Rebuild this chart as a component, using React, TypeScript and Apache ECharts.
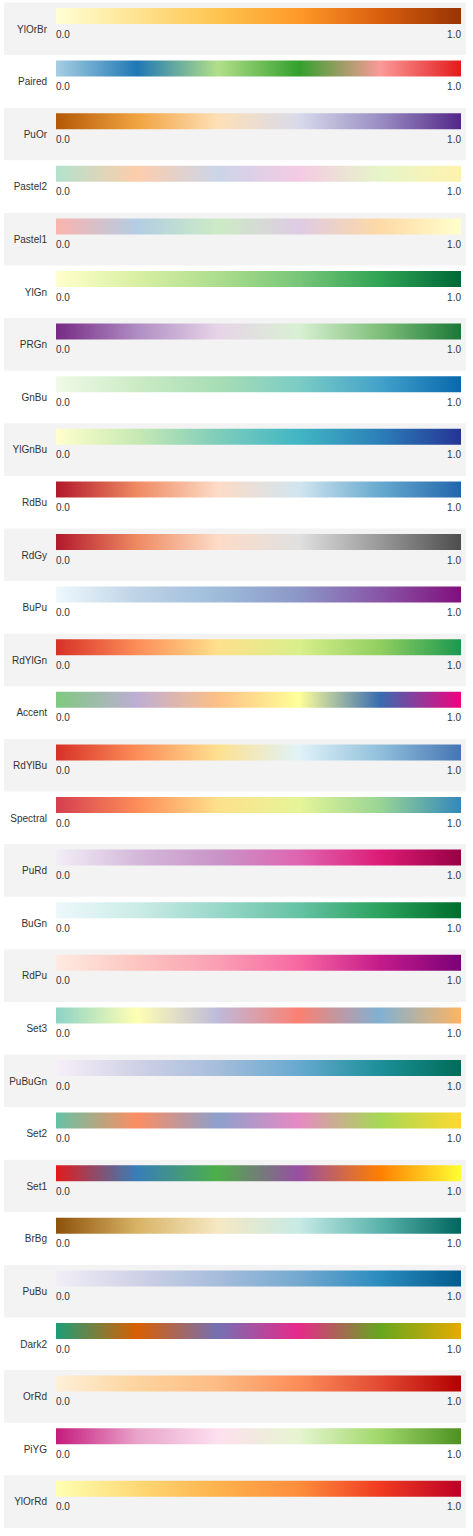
import React, { useEffect, useRef } from 'react';
import * as echarts from 'echarts';

const schemeNames: string[] = [
  'YlOrBr', 'Paired', 'PuOr', 'Pastel2', 'Pastel1', 'YlGn', 'PRGn', 'GnBu', 'YlGnBu', 'RdBu',
  'RdGy', 'BuPu', 'RdYlGn', 'Accent', 'RdYlBu', 'Spectral', 'PuRd', 'BuGn', 'RdPu', 'Set3',
  'PuBuGn', 'Set2', 'Set1', 'BrBg', 'PuBu', 'Dark2', 'OrRd', 'PiYG', 'YlOrRd',
];

const schemeColors: string[][] = [
  ['#ffffd4', '#fee391', '#fec44f', '#fe9929', '#d95f0e', '#993404'],
  ['#a6cee3', '#1f78b4', '#b2df8a', '#33a02c', '#fb9a99', '#e31a1c'],
  ['#b35806', '#f1a340', '#fee0b6', '#d8daeb', '#998ec3', '#542788'],
  ['#b3e2cd', '#fdcdac', '#cbd5e8', '#f4cae4', '#e6f5c9', '#fff2ae'],
  ['#fbb4ae', '#b3cde3', '#ccebc5', '#decbe4', '#fed9a6', '#ffffcc'],
  ['#ffffcc', '#d9f0a3', '#addd8e', '#78c679', '#31a354', '#006837'],
  ['#762a83', '#af8dc3', '#e7d4e8', '#d9f0d3', '#7fbf7b', '#1b7837'],
  ['#f0f9e8', '#ccebc5', '#a8ddb5', '#7bccc4', '#43a2ca', '#0868ac'],
  ['#ffffcc', '#c7e9b4', '#7fcdbb', '#41b6c4', '#2c7fb8', '#253494'],
  ['#b2182b', '#ef8a62', '#fddbc7', '#d1e5f0', '#67a9cf', '#2166ac'],
  ['#b2182b', '#ef8a62', '#fddbc7', '#e0e0e0', '#999999', '#4d4d4d'],
  ['#edf8fb', '#bfd3e6', '#9ebcda', '#8c96c6', '#8856a7', '#810f7c'],
  ['#d73027', '#fc8d59', '#fee08b', '#d9ef8b', '#91cf60', '#1a9850'],
  ['#7fc97f', '#beaed4', '#fdc086', '#ffff99', '#386cb0', '#f0027f'],
  ['#d73027', '#fc8d59', '#fee090', '#e0f3f8', '#91bfdb', '#4575b4'],
  ['#d53e4f', '#fc8d59', '#fee08b', '#e6f598', '#99d594', '#3288bd'],
  ['#f1eef6', '#d4b9da', '#c994c7', '#df65b0', '#dd1c77', '#980043'],
  ['#edf8fb', '#ccece6', '#99d8c9', '#66c2a4', '#2ca25f', '#006d2c'],
  ['#feebe2', '#fcc5c0', '#fa9fb5', '#f768a1', '#c51b8a', '#7a0177'],
  ['#8dd3c7', '#ffffb3', '#bebada', '#fb8072', '#80b1d3', '#fdb462'],
  ['#f6eff7', '#d0d1e6', '#a6bddb', '#67a9cf', '#1c9099', '#016c59'],
  ['#66c2a5', '#fc8d62', '#8da0cb', '#e78ac3', '#a6d854', '#ffd92f'],
  ['#e41a1c', '#377eb8', '#4daf4a', '#984ea3', '#ff7f00', '#ffff33'],
  ['#8c510a', '#d8b365', '#f6e8c3', '#c7eae5', '#5ab4ac', '#01665e'],
  ['#f1eef6', '#d0d1e6', '#a6bddb', '#74a9cf', '#2b8cbe', '#045a8d'],
  ['#1b9e77', '#d95f02', '#7570b3', '#e7298a', '#66a61e', '#e6ab02'],
  ['#fef0d9', '#fdd49e', '#fdbb84', '#fc8d59', '#e34a33', '#b30000'],
  ['#c51b7d', '#e9a3c9', '#fde0ef', '#e6f5d0', '#a1d76a', '#4d9221'],
  ['#ffffb2', '#fed976', '#feb24c', '#fd8d3c', '#f03b20', '#bd0026'],
];

const domainMin = 0;
const domainMax = 1;
const barValue: number[] = [1];

const W = 473;
const H = 1536;
const ROW = 52.6;
const BAR_TOP = 8;
const BAR_H = 16;
const BAND_TOP = 2.5;
const FONT = 'Arial, "Liberation Sans", Helvetica, sans-serif';

export default function App() {
  const ref = useRef<HTMLDivElement>(null);

  useEffect(() => {
    if (!ref.current) return;
    const chart = echarts.init(ref.current, null, { renderer: 'svg', width: W, height: H });

    const grids: any[] = [];
    const xAxes: any[] = [];
    const yAxes: any[] = [];
    const series: any[] = [];
    const graphics: any[] = [];

    schemeNames.forEach((name, i) => {
      if (i % 2 === 0) {
        graphics.push({
          type: 'rect',
          silent: true,
          z: -10,
          shape: { x: 4, y: BAND_TOP + ROW * i, width: 462, height: ROW },
          style: { fill: '#f3f3f3' },
        });
      }
      grids.push({ left: 56, right: 12, top: BAR_TOP + ROW * i, height: BAR_H, containLabel: false });
      xAxes.push({
        type: 'value',
        gridIndex: i,
        min: domainMin,
        max: domainMax,
        interval: domainMax - domainMin,
        axisLine: { show: false },
        axisTick: { show: false },
        splitLine: { show: false },
        axisLabel: {
          show: true,
          margin: 5,
          fontSize: 10,
          fontFamily: FONT,
          color: '#333',
          showMinLabel: true,
          showMaxLabel: true,
          alignMinLabel: 'left',
          alignMaxLabel: 'right',
          formatter: (v: number) => v.toFixed(1),
        },
      });
      yAxes.push({
        type: 'category',
        gridIndex: i,
        data: [name],
        axisLine: { show: false },
        axisTick: { show: false },
        splitLine: { show: false },
        axisLabel: {
          margin: 9,
          fontSize: 10,
          fontFamily: FONT,
          color: '#333',
          verticalAlign: 'top',
          lineHeight: 26,
        },
      });
      const colors = schemeColors[i];
      series.push({
        type: 'bar',
        name,
        xAxisIndex: i,
        yAxisIndex: i,
        data: barValue,
        barWidth: '100%',
        silent: true,
        itemStyle: {
          color: new echarts.graphic.LinearGradient(
            0, 0, 1, 0,
            colors.map((c, k) => ({ offset: k / (colors.length - 1), color: c }))
          ),
        },
      });
    });

    chart.setOption({
      animation: false,
      backgroundColor: '#ffffff',
      graphic: graphics,
      grid: grids,
      xAxis: xAxes,
      yAxis: yAxes,
      series,
    });

    return () => chart.dispose();
  }, []);

  return (
    <div style={{ position: 'absolute', left: 0, top: 0, width: W, height: H, background: '#fff' }}>
      <div ref={ref} style={{ width: W, height: H }} />
    </div>
  );
}
